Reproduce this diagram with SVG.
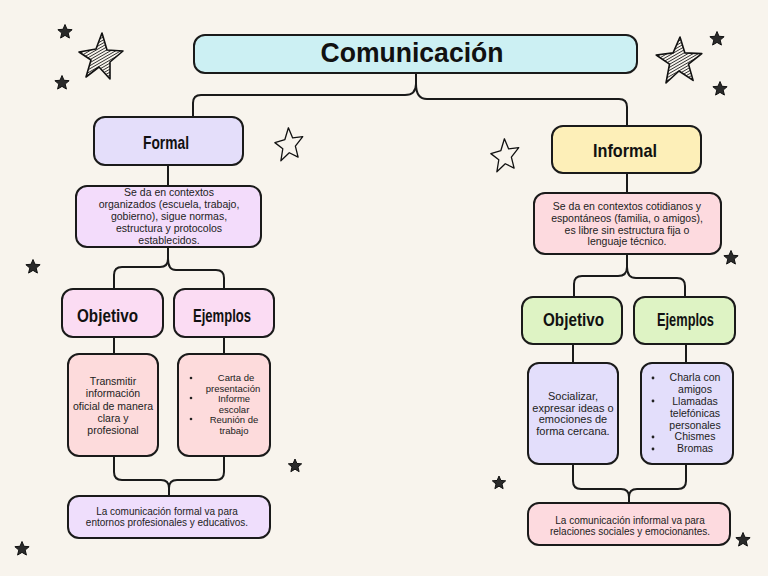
<svg xmlns="http://www.w3.org/2000/svg" xmlns:xlink="http://www.w3.org/1999/xlink" width="768" height="576" viewBox="0 0 768 576">
<style>
.box{stroke:#1a1a1a;stroke-width:2}
.head{font-family:"Liberation Sans","DejaVu Sans",sans-serif;font-weight:bold;fill:#111;text-anchor:middle}
.body{font-family:"Liberation Sans","Open Sans",sans-serif;fill:#222;text-anchor:middle}
.conn path{fill:none;stroke:#1a1a1a;stroke-width:2;stroke-linecap:round}
.sm{fill:#2a2a2a;stroke:#111;stroke-width:1;stroke-linejoin:round}
.ol{fill:none;stroke:#111;stroke-width:1.3;stroke-linejoin:round}
.big{fill:url(#hatch);stroke:#111;stroke-width:1.6;stroke-linejoin:round}
</style>
<defs>
<pattern id="hatch" patternUnits="userSpaceOnUse" width="2.6" height="2.6" patternTransform="rotate(60)">
<rect width="2.6" height="2.6" fill="#f8f4ed"/>
<line x1="0" y1="0" x2="0" y2="2.6" stroke="#111" stroke-width="1.5"/>
</pattern>
<path id="star" d="M0,-1 L0.265,-0.364 L0.951,-0.309 L0.428,0.139 L0.588,0.809 L0,0.45 L-0.588,0.809 L-0.428,0.139 L-0.951,-0.309 L-0.265,-0.364Z" vector-effect="non-scaling-stroke"/>
</defs>
<rect width="768" height="576" fill="#f8f4ed"/>

<g id="stars">
<polygon class="big" points="102,33 107,50 123,51 110,62 110,79 99,67 86,77 91,60 79,52 96,49"/>
<polygon class="big" points="680,37 684.9,52.9 701.8,53.6 688.5,64.1 693.1,80.4 679,71 666,83 669.5,64.1 656.2,55 673.1,52.9"/>
<use xlink:href="#star" class="sm" transform="translate(65,32) scale(7.5)"/>
<use xlink:href="#star" class="sm" transform="translate(62,83) scale(7.5)"/>
<use xlink:href="#star" class="sm" transform="translate(717,39) scale(7.5)"/>
<use xlink:href="#star" class="sm" transform="translate(720,89) scale(7.5)"/>
<use xlink:href="#star" class="sm" transform="translate(33,267) scale(7.5)"/>
<use xlink:href="#star" class="sm" transform="translate(295,466) scale(7)"/>
<use xlink:href="#star" class="sm" transform="translate(499,483) scale(7)"/>
<use xlink:href="#star" class="sm" transform="translate(731,258) scale(7.5)"/>
<use xlink:href="#star" class="sm" transform="translate(743,540) scale(7.5)"/>
<use xlink:href="#star" class="sm" transform="translate(22,549) scale(7.5)"/>
<use xlink:href="#star" class="ol" transform="translate(289,145) rotate(-12) skewX(-10) scale(15,17)"/>
<use xlink:href="#star" class="ol" transform="translate(505,156) rotate(-12) skewX(-10) scale(15,17)"/>
</g>

<g class="conn" id="connectors">
<path d="M416,73 V84 Q416,95 405,95 H201 Q193,95 193,103 V117"/>
<path d="M416,84 Q416,99 427,99 H619 Q627,99 627,107 V126"/>
<path d="M168,165 V186"/>
<path d="M168,247 V259 Q168,267 160,267 H122 Q114,267 114,275 V289"/>
<path d="M168,259 Q168,270 176,270 H216 Q224,270 224,278 V289"/>
<path d="M114,337 V354"/>
<path d="M224,337 V354"/>
<path d="M114,456 V472 Q114,480 122,480 H161 Q169,480 169,488 V496"/>
<path d="M224,456 V472 Q224,480 216,480 H177 Q169,480 169,488"/>
<path d="M627,173 V193"/>
<path d="M627,254 V267 Q627,276 618,276 H582 Q574,276 574,284 V297"/>
<path d="M627,267 Q627,278 636,278 H677 Q685,278 685,286 V297"/>
<path d="M573,344 V363"/>
<path d="M686,344 V363"/>
<path d="M573,464 V481 Q573,489 581,489 H621 Q629,489 629,497 V503"/>
<path d="M686,464 V481 Q686,489 678,489 H637 Q629,489 629,497"/>
</g>

<g id="title">
<rect class="box" x="194" y="35" width="443" height="38" rx="11" fill="#ccf0f3"/>
<text class="head" x="412" y="62" font-size="28" textLength="183" lengthAdjust="spacingAndGlyphs">Comunicación</text>
</g>

<g id="formal">
<rect class="box" x="94" y="117" width="149" height="48" rx="11" fill="#e4defa"/>
<text class="head" x="166" y="149" font-size="19" textLength="46" lengthAdjust="spacingAndGlyphs">Formal</text>
</g>

<g id="formal-desc">
<rect class="box" x="76" y="186" width="185" height="61" rx="11" fill="#f3dcfb"/>
<text class="body" font-size="10.5"><tspan x="169" y="196">Se da en contextos</tspan><tspan x="169" y="208">organizados (escuela, trabajo,</tspan><tspan x="169" y="220">gobierno), sigue normas,</tspan><tspan x="169" y="232">estructura y protocolos</tspan><tspan x="169" y="244">establecidos.</tspan></text>
</g>

<g id="formal-objetivo">
<rect class="box" x="62" y="289" width="101" height="48" rx="11" fill="#fbdcf3"/>
<text class="head" x="107.5" y="322" font-size="18" textLength="61" lengthAdjust="spacingAndGlyphs">Objetivo</text>
</g>

<g id="formal-ejemplos">
<rect class="box" x="174" y="289" width="100" height="48" rx="11" fill="#fbdcf3"/>
<text class="head" x="222" y="322" font-size="18" textLength="58" lengthAdjust="spacingAndGlyphs">Ejemplos</text>
</g>

<g id="formal-objetivo-detail">
<rect class="box" x="68" y="354" width="90" height="102" rx="11" fill="#fddbdc"/>
<text class="body" font-size="10.5"><tspan x="113" y="385">Transmitir</tspan><tspan x="113" y="397">información</tspan><tspan x="113" y="410">oficial de manera</tspan><tspan x="113" y="422">clara y</tspan><tspan x="113" y="434">profesional</tspan></text>
</g>

<g id="formal-ejemplos-detail">
<rect class="box" x="178" y="354" width="92" height="102" rx="11" fill="#fddbdc"/>
<circle cx="191" cy="378" r="1.3" fill="#222"/>
<circle cx="191" cy="398" r="1.3" fill="#222"/>
<circle cx="191" cy="419" r="1.3" fill="#222"/>
<text class="body" font-size="9.5"><tspan x="236" y="381">Carta de</tspan><tspan x="233" y="391.5">presentación</tspan><tspan x="234" y="402">Informe</tspan><tspan x="234" y="412.5">escolar</tspan><tspan x="234" y="423">Reunión de</tspan><tspan x="234" y="434">trabajo</tspan></text>
</g>

<g id="formal-conclusion">
<rect class="box" x="68" y="496" width="202" height="42" rx="11" fill="#efdefc"/>
<text class="body" font-size="10"><tspan x="167" y="514.5">La comunicación formal va para</tspan><tspan x="167" y="525.5">entornos profesionales y educativos.</tspan></text>
</g>

<g id="informal">
<rect class="box" x="552" y="126" width="149" height="47" rx="11" fill="#fdefb8"/>
<text class="head" x="625" y="157" font-size="19" textLength="64" lengthAdjust="spacingAndGlyphs">Informal</text>
</g>

<g id="informal-desc">
<rect class="box" x="534" y="193" width="187" height="61" rx="11" fill="#fddadf"/>
<text class="body" font-size="10.5"><tspan x="627" y="209.5">Se da en contextos cotidianos y</tspan><tspan x="627" y="221.5">espontáneos (familia, o amigos),</tspan><tspan x="627" y="233.5">es libre sin estructura fija o</tspan><tspan x="627" y="245">lenguaje técnico.</tspan></text>
</g>

<g id="informal-objetivo">
<rect class="box" x="522" y="297" width="100" height="47" rx="11" fill="#def3c4"/>
<text class="head" x="573.5" y="326" font-size="18" textLength="61" lengthAdjust="spacingAndGlyphs">Objetivo</text>
</g>

<g id="informal-ejemplos">
<rect class="box" x="634" y="297" width="101" height="47" rx="11" fill="#def3c4"/>
<text class="head" x="685.5" y="326" font-size="18" textLength="57" lengthAdjust="spacingAndGlyphs">Ejemplos</text>
</g>

<g id="informal-objetivo-detail">
<rect class="box" x="528" y="363" width="90" height="101" rx="11" fill="#e3defb"/>
<text class="body" font-size="11"><tspan x="573" y="400">Socializar,</tspan><tspan x="573" y="411.5">expresar ideas o</tspan><tspan x="573" y="423">emociones de</tspan><tspan x="573" y="434.5">forma cercana.</tspan></text>
</g>

<g id="informal-ejemplos-detail">
<rect class="box" x="641" y="363" width="92" height="101" rx="11" fill="#e3defb"/>
<circle cx="653" cy="378" r="1.4" fill="#222"/>
<circle cx="653" cy="401" r="1.4" fill="#222"/>
<circle cx="653" cy="437" r="1.4" fill="#222"/>
<circle cx="653" cy="449" r="1.4" fill="#222"/>
<text class="body" font-size="10.5"><tspan x="695" y="380.5">Charla con</tspan><tspan x="695" y="392.5">amigos</tspan><tspan x="695" y="404.5">Llamadas</tspan><tspan x="695" y="416.5">telefónicas</tspan><tspan x="695" y="428.5">personales</tspan><tspan x="695" y="440">Chismes</tspan><tspan x="695" y="452">Bromas</tspan></text>
</g>

<g id="informal-conclusion">
<rect class="box" x="528" y="503" width="202" height="42" rx="11" fill="#fddadf"/>
<text class="body" font-size="10"><tspan x="630" y="523.5">La comunicación informal va para</tspan><tspan x="630" y="534.5">relaciones sociales y emocionantes.</tspan></text>
</g>
</svg>
